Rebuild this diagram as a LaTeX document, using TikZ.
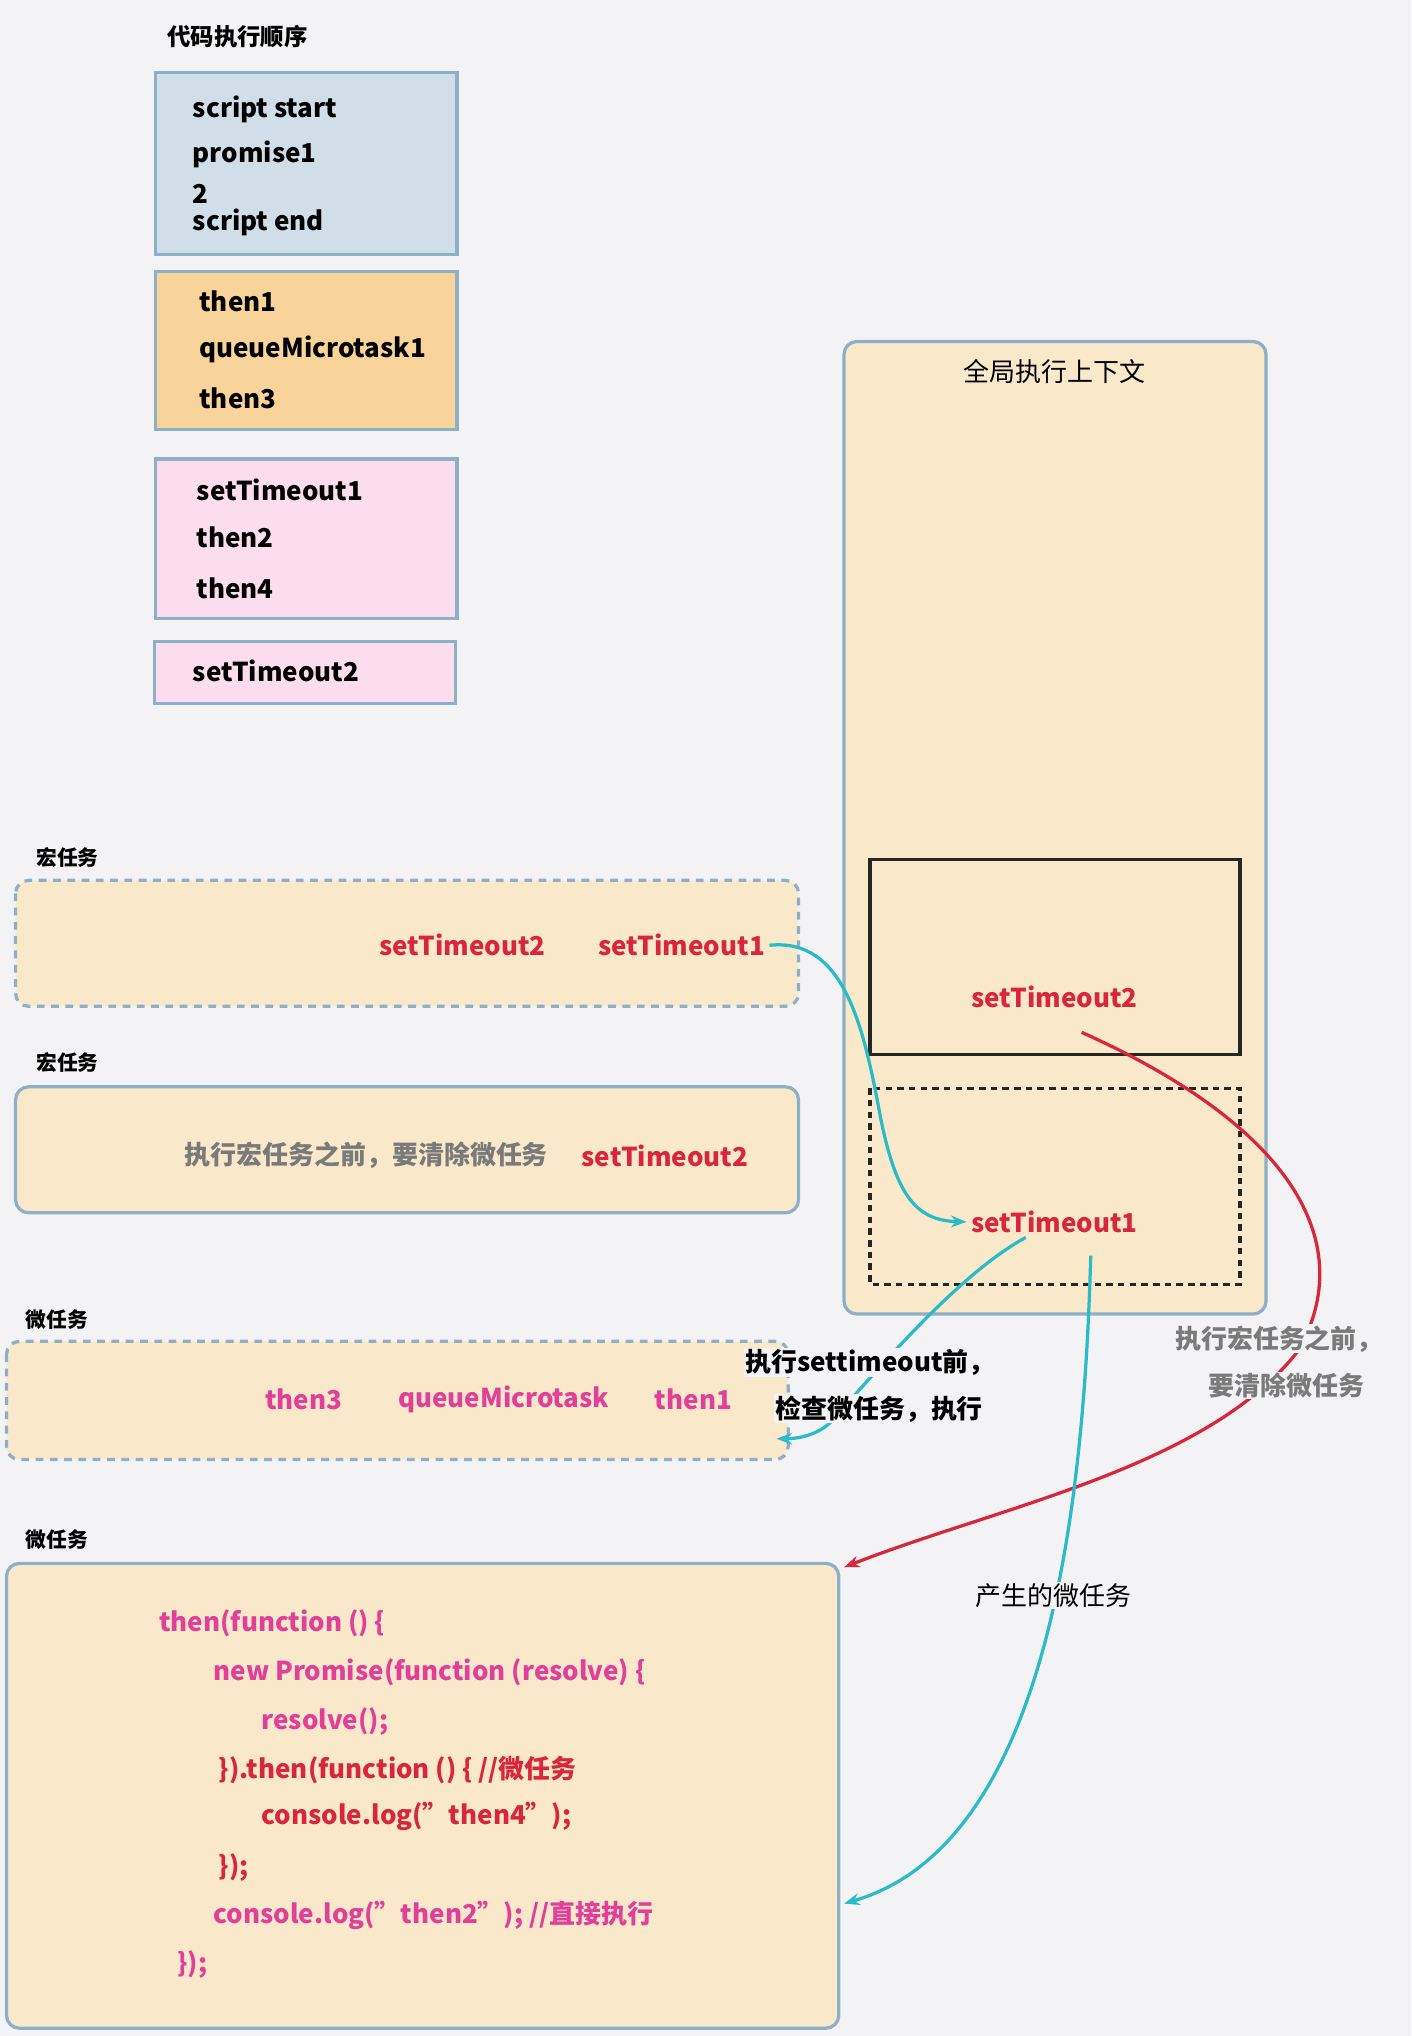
\documentclass[tikz,border=0pt]{standalone}
\usepackage{fontspec}
\usetikzlibrary{arrows.meta}
\setmainfont{Noto Sans CJK SC}
\begin{document}
\definecolor{bg}{HTML}{F3F3F5}
\definecolor{bluef}{HTML}{D0DEE8}
\definecolor{bord}{HTML}{8DAFC8}
\definecolor{oran}{HTML}{F8D49A}
\definecolor{pinkf}{HTML}{FBDDED}
\definecolor{beige}{HTML}{F9E9CA}
\definecolor{redt}{HTML}{D8263A}
\definecolor{mag}{HTML}{E0409A}
\definecolor{teal}{HTML}{2BBBC8}
\definecolor{grayt}{HTML}{7A7A7A}
\begin{tikzpicture}[x=1pt,y=-1pt,
  box/.style={draw=bord,line width=2.5pt},
  rbox/.style={draw=bord,line width=2.5pt,fill=beige,rounded corners=10pt},
  bt/.style={anchor=west,font=\bfseries\fontsize{20}{20}\selectfont},
  ct/.style={font=\bfseries\fontsize{20}{20}\selectfont},
  lab/.style={font=\bfseries\fontsize{16}{16}\selectfont},
  cd/.style={anchor=west,font=\bfseries\fontsize{20}{20}\selectfont},
  ar/.style={line width=2.5pt,-{Stealth[length=12pt,width=9pt]}},
  hid/.style={fill=bg,inner sep=1pt}]
\fill[bg] (0,0) rectangle (1087,1568);
\node[lab,font=\bfseries\fontsize{18}{18}\selectfont] (title) at (183,28) {代码执行顺序};
\node[box,fill=bluef,minimum width=232pt,minimum height=140pt] (b1) at (236,126) {};
\node[bt] (t1) at (145,84) {script start};
\node[bt] (t2) at (145,119) {promise1};
\node[bt] (t3) at (145,149) {2};
\node[bt] (t4) at (145,171) {script end};
\node[box,fill=oran,minimum width=232pt,minimum height=122pt] (b2) at (236,270) {};
\node[bt] (t5) at (150,232) {then1};
\node[bt] (t6) at (150,269) {queueMicrotask1};
\node[bt] (t7) at (150,307) {then3};
\node[box,fill=pinkf,minimum width=232pt,minimum height=123pt] (b3) at (236,415) {};
\node[bt] (t8) at (148,377) {setTimeout1};
\node[bt] (t9) at (148,414) {then2};
\node[bt] (t10) at (148,453) {then4};
\node[box,fill=pinkf,minimum width=232pt,minimum height=48pt] (b4) at (235,518) {};
\node[bt] (t11) at (145,517) {setTimeout2};
% global
\draw[rbox] (650,263) rectangle (975,1012);
\node[font=\fontsize{20}{20}\selectfont] (g) at (812,286) {全局执行上下文};
\draw[line width=2.5pt,black!85] (670,662) rectangle (955,812);
\node[ct,redt] (gs2) at (812,768) {setTimeout2};
\draw[line width=2.5pt,black!85,dash pattern=on 5pt off 4pt] (670,838) rectangle (955,989);
\node[ct,redt] (gs1) at (812,941) {setTimeout1};
% queues
\node[lab] (l1) at (52,660) {宏任务};
\draw[rbox,dash pattern=on 6pt off 5pt] (12,678) rectangle (615,775);
\node[ct,redt] (q1) at (356,728) {setTimeout2};
\node[ct,redt] (q2) at (525,728) {setTimeout1};
\node[lab] (l2) at (52,818) {宏任务};
\draw[rbox] (12,837) rectangle (615,934);
\node[ct,grayt] (q3) at (282,890) {执行宏任务之前，要清除微任务};
\node[ct,redt] (q4) at (512,890) {setTimeout2};
\node[lab] (l3) at (44,1016) {微任务};
\draw[rbox,dash pattern=on 6pt off 5pt] (5,1033) rectangle (607,1124);
\node[ct,mag] (m1) at (234,1078) {then3};
\node[ct,mag] (m2) at (388,1078) {queueMicrotask};
\node[ct,mag] (m3) at (534,1078) {then1};
\node[lab] (l4) at (44,1186) {微任务};
\draw[rbox] (5,1204) rectangle (646,1562);
\node[cd,mag] (c1) at (119,1250) {then(function () \{};
\node[cd,mag] (c2) at (161,1288) {new Promise(function (resolve) \{};
\node[cd,mag] (c3) at (198,1326) {resolve();};
\node[cd,redt] (c4) at (165,1363) {\}).then(function () \{ //微任务};
\node[cd,redt] (c5) at (198,1399) {console.log("then4");};
\node[cd,redt] (c6) at (165,1438) {\});};
\node[cd,mag] (c7) at (161,1475) {console.log("then2"); //直接执行};
\node[cd,mag] (c8) at (133,1513) {\});};
\coordinate (cbox) at (650,1466);
\coordinate (cbox2) at (650,1207);
\coordinate (mq) at (598,1108);
% arrows
\draw[ar,teal] (q2.east) .. controls (650,722) and (665,790) .. (678,860) .. controls (690,920) and (705,940) .. (gs1.west);
\draw[ar,redt] (833,795) .. controls (1000,870) and (1045,960) .. (1000,1040) .. controls (930,1130) and (770,1160) .. (cbox2);
\draw[ar,teal] (790,953) .. controls (740,980) and (680,1050) .. (640,1095) .. controls (630,1105) and (615,1108) .. (mq);
\draw[ar,teal] (840,967) .. controls (835,1150) and (810,1420) .. (cbox);
\node[ct,hid] (n1) at (670,1049) {执行settimeout前，};
\node[ct,hid] (n2) at (677,1085) {检查微任务，执行};
\node[ct,grayt,hid] (n3) at (985,1031) {执行宏任务之前，};
\node[ct,grayt,hid] (n4) at (991,1067) {要清除微任务};
\node[font=\fontsize{20}{20}\selectfont,hid] (n5) at (811,1229) {产生的微任务};
\end{tikzpicture}
\end{document}
